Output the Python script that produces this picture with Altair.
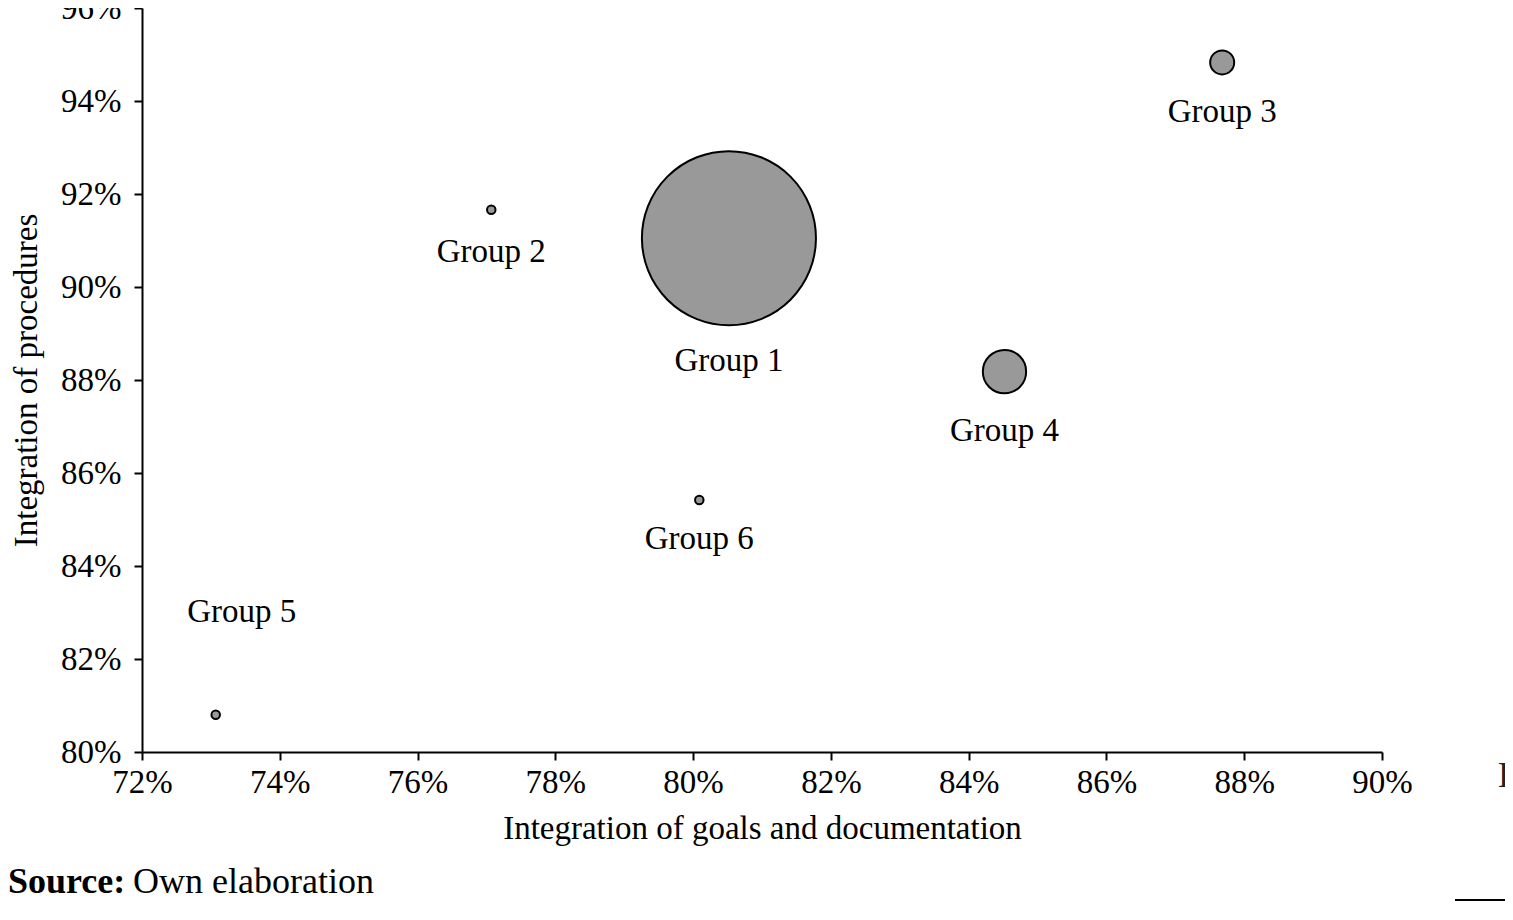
import altair as alt
import pandas as pd

# ---- data ----
groups = ["Group 1", "Group 2", "Group 3", "Group 4", "Group 5", "Group 6"]
goals = [0.8052, 0.7707, 0.8768, 0.8452, 0.7307, 0.8009]        # x: integration of goals and documentation
procedures = [0.9105, 0.9166, 0.9483, 0.8818, 0.8080, 0.8542]   # y: integration of procedures
weight = [420, 1, 8, 26, 1, 1]                                  # relative bubble size
x_ticks = [0.72, 0.74, 0.76, 0.78, 0.80, 0.82, 0.84, 0.86, 0.88, 0.90]
y_ticks = [0.80, 0.82, 0.84, 0.86, 0.88, 0.90, 0.92, 0.94, 0.96]

df = pd.DataFrame({"group": groups, "goals": goals, "procedures": procedures, "weight": weight})

FONT = "Liberation Serif"
FS = 33

# label offsets (style), in pixels relative to the bubble centre
label_offsets = {
    "Group 1": (0, 133),
    "Group 2": (0, 52),
    "Group 3": (0, 60),
    "Group 4": (0, 69),
    "Group 5": (26, -93),
    "Group 6": (0, 49),
}

x_enc = alt.X(
    "goals:Q",
    scale=alt.Scale(domain=[0.72, 0.90], nice=False, zero=False),
    axis=alt.Axis(
        title="Integration of goals and documentation",
        format=".0%",
        values=x_ticks,
        labelPadding=6,
        labelFlush=False,
        titleY=86,
        titleBaseline="alphabetic",
    ),
)
y_enc = alt.Y(
    "procedures:Q",
    scale=alt.Scale(domain=[0.80, 0.96], nice=False, zero=False),
    axis=alt.Axis(
        title="Integration of procedures",
        format=".0%",
        values=y_ticks,
        labelPadding=13,
        labelFlush=False,
        titleAngle=270,
        titleX=-116,
        titleY=372,
        titleAlign="center",
        titleBaseline="middle",
    ),
)

base = alt.Chart(df)

bubbles = base.mark_circle(
    color="#999999", opacity=1, stroke="black", strokeWidth=2
).encode(
    x=x_enc,
    y=y_enc,
    size=alt.Size("weight:Q", scale=alt.Scale(domain=[0, 420], range=[0, 30300]), legend=None),
)

labels = []
for g in groups:
    dx, dy = label_offsets[g]
    labels.append(
        base.transform_filter(alt.datum.group == g)
        .mark_text(font=FONT, fontSize=FS, color="black", align="center",
                   baseline="alphabetic", dx=dx, dy=dy)
        .encode(x="goals:Q", y="procedures:Q", text="group:N")
    )

note = pd.DataFrame({"a": [0]})
source_bold = alt.Chart(note).mark_text(
    text="Source:", font=FONT, fontSize=36, fontWeight="bold", color="black",
    align="left", baseline="alphabetic"
).encode(x=alt.value(-134), y=alt.value(885))
source_rest = alt.Chart(note).mark_text(
    text="Own elaboration", font=FONT, fontSize=36, color="black",
    align="left", baseline="alphabetic"
).encode(x=alt.value(-9), y=alt.value(885))
edge_letter = alt.Chart(note).mark_text(
    text="L", font=FONT, fontSize=36, color="#222222",
    align="left", baseline="alphabetic"
).encode(x=alt.value(1356), y=alt.value(779))
edge_rule = alt.Chart(note).mark_rule(color="black", strokeWidth=2).encode(
    x=alt.value(1313), x2=alt.value(1363), y=alt.value(892)
)

chart = alt.layer(bubbles, *labels, source_bold, source_rest, edge_letter, edge_rule).properties(
    width=1240,
    height=744,
    padding={"left": 134, "top": 0, "right": 123, "bottom": 160},
    autosize=alt.AutoSizeParams(type="none"),
    background="white",
).configure_view(stroke=None).configure_axis(
    grid=False,
    domainColor="black",
    domainWidth=2,
    tickColor="black",
    tickWidth=2,
    tickSize=8,
    labelFont=FONT,
    labelFontSize=FS,
    labelColor="black",
    titleFont=FONT,
    titleFontSize=FS,
    titleColor="black",
    titleFontWeight="normal",
)

chart.save("out.html", embed_options={"renderer": "svg", "actions": False})
